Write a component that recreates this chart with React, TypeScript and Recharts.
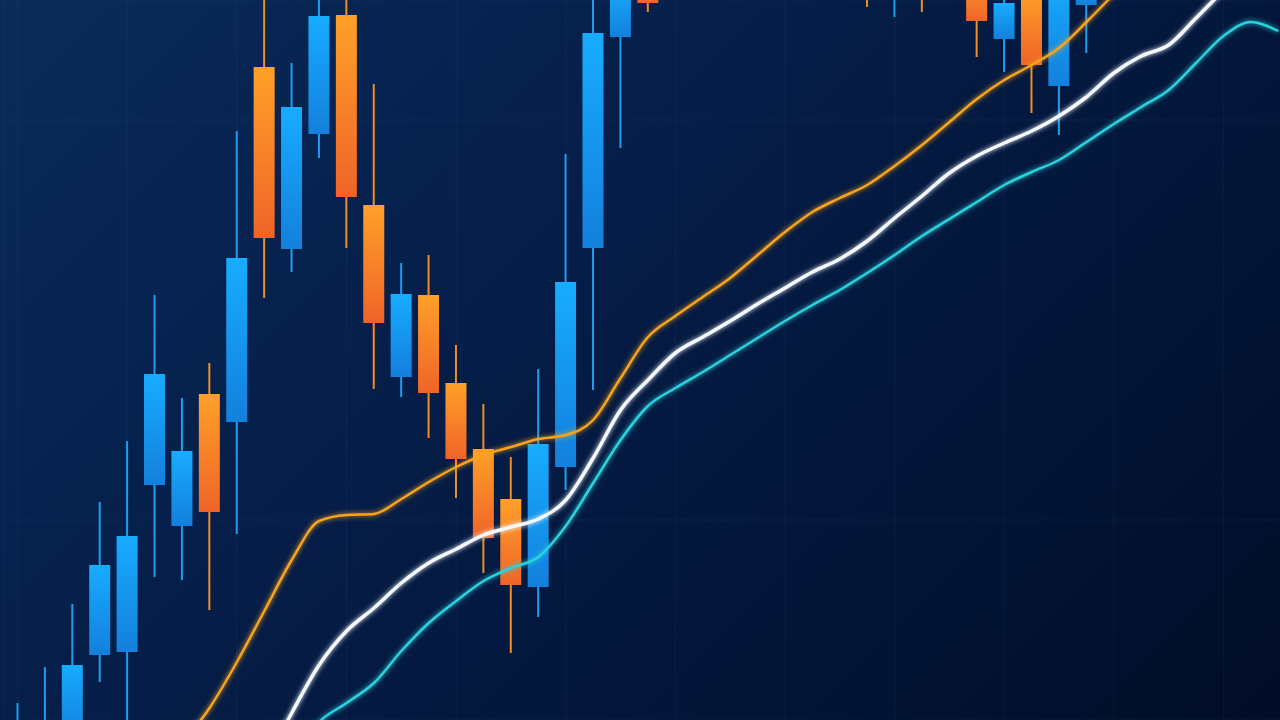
import {
  Bar,
  CartesianGrid,
  ComposedChart,
  Line,
  XAxis,
  YAxis,
} from 'recharts';

const days = Array.from({ length: 47 }, (_, i) => `D${i + 1}`);

const opens = [
  93.0, 94.0, 98.5, 106.5, 106.8, 123.5, 119.4, 132.6, 129.8, 165.3,
  147.1, 158.6, 170.5, 151.5, 134.3, 142.5, 133.7, 127.1, 122.1, 113.3,
  125.3, 147.2, 168.3, 175.5, 176.0, 178.5, 176.2, 180.6, 178.0, 182.1,
  177.4, 176.8, 172.5, 176.0, 174.0, 174.6, 168.1, 173.0, 163.4, 171.5,
];
const highs = [
  101.7, 105.3, 111.6, 121.8, 127.9, 142.5, 132.2, 135.7, 158.9, 174.0,
  165.7, 173.5, 173.2, 163.6, 145.7, 146.5, 137.5, 131.6, 126.3, 135.1,
  156.6, 175.0, 176.5, 178.0, 179.5, 182.0, 181.4, 184.2, 183.0, 185.6,
  180.5, 178.9, 179.0, 178.1, 180.2, 177.9, 176.0, 176.4, 175.8, 179.0,
];
const lows = [
  91.0, 92.0, 96.0, 103.8, 97.5, 114.3, 114.0, 111.0, 118.6, 142.2,
  144.8, 156.2, 147.2, 133.1, 132.3, 128.2, 122.2, 114.7, 106.7, 110.3,
  123.0, 133.0, 157.2, 170.8, 172.8, 174.6, 173.9, 177.1, 175.4, 176.3,
  173.6, 171.3, 170.3, 170.8, 172.5, 166.3, 164.8, 160.7, 158.5, 166.7,
];
const closes = [
  98.0, 99.5, 105.5, 115.5, 118.4, 134.6, 126.9, 120.8, 146.2, 148.2,
  161.3, 170.4, 152.3, 139.7, 142.6, 132.7, 126.1, 118.2, 113.5, 127.6,
  143.8, 168.7, 173.5, 171.7, 178.5, 176.2, 180.6, 178.0, 182.1, 177.4,
  179.9, 172.5, 177.2, 172.5, 178.6, 169.9, 171.7, 165.5, 174.0, 175.0,
];

// moving averages: fast (orange), mid (white), slow (cyan)
const maFast = [
  null, null, null, null, null, 93.0, 97.5, 101.2, 105.8, 110.9,
  116.0, 119.9, 120.5, 120.6, 122.1, 123.8, 125.3, 126.5, 127.3, 128.1,
  128.5, 130.0, 134.2, 138.3, 140.4, 142.3, 144.2, 146.5, 148.8, 150.8,
  152.2, 153.5, 155.4, 157.5, 159.8, 162.1, 164.0, 165.5, 167.2, 169.8,
  172.6, 175.5, 178.2, null, null, null, null,
];
const maMid = [
  null, null, null, null, null, null, null, null, null, 95.5,
  100.7, 105.5, 108.9, 111.2, 113.7, 115.7, 117.1, 118.5, 119.3, 120.1,
  122.0, 126.2, 131.0, 134.0, 136.7, 138.3, 139.9, 141.6, 143.2, 144.8,
  146.1, 147.9, 150.2, 152.4, 154.7, 156.4, 157.7, 158.9, 160.4, 162.3,
  164.7, 166.4, 167.5, 170.2, 173.0, 176.0, null,
];
const maSlow = [
  null, null, null, null, null, null, null, null, null, null,
  96.0, 99.8, 101.7, 103.7, 106.9, 109.7, 111.9, 113.9, 115.2, 116.3,
  119.4, 123.7, 128.0, 131.4, 133.2, 134.8, 136.5, 138.2, 139.9, 141.5,
  143.0, 144.7, 146.5, 148.4, 150.1, 151.8, 153.5, 154.8, 156.0, 157.8,
  159.6, 161.3, 163.0, 165.7, 168.4, 169.8, 168.9,
];

const priceTicks = [120, 160];

const data = days.map((day, i) => ({
  day,
  open: opens[i],
  high: highs[i],
  low: lows[i],
  close: closes[i],
  range: highs[i] !== undefined ? [lows[i], highs[i]] : undefined,
  maFast: maFast[i],
  maMid: maMid[i],
  maSlow: maSlow[i],
}));

function Candle(props: any) {
  const { x, y, width, height, payload } = props;
  if (!payload || payload.high === undefined || !height) return null;
  const { open, high, low, close } = payload;
  const up = close >= open;
  const k = height / (high - low);
  const top = y + (high - Math.max(open, close)) * k;
  const bottom = y + (high - Math.min(open, close)) * k;
  const cx = x + width / 2;
  return (
    <g>
      <line
        x1={cx}
        x2={cx}
        y1={y}
        y2={y + height}
        stroke={up ? '#1d9ef0' : '#f08d24'}
        strokeWidth={2}
      />
      <rect
        x={x}
        y={top}
        width={width}
        height={Math.max(bottom - top, 1)}
        fill={up ? 'url(#upFill)' : 'url(#downFill)'}
      />
    </g>
  );
}

export default function App() {
  return (
    <div
      style={{
        position: 'fixed',
        top: 0,
        left: 0,
        width: 1280,
        height: 720,
        overflow: 'hidden',
        background:
          'linear-gradient(135deg, #0a2b59 0%, #061f4b 35%, #031538 70%, #010d27 100%)',
      }}
    >
      <ComposedChart
        width={1292}
        height={720}
        data={data}
        margin={{ top: 0, right: 0, left: 4, bottom: 0 }}
      >
        <defs>
          <linearGradient id="upFill" x1="0" y1="0" x2="0" y2="1">
            <stop offset="0%" stopColor="#17acff" />
            <stop offset="100%" stopColor="#1380dc" />
          </linearGradient>
          <linearGradient id="downFill" x1="0" y1="0" x2="0" y2="1">
            <stop offset="0%" stopColor="#ffa028" />
            <stop offset="100%" stopColor="#ef6428" />
          </linearGradient>
          <filter id="glow" x="-20%" y="-20%" width="140%" height="140%">
            <feGaussianBlur stdDeviation="2.5" result="blur" />
            <feMerge>
              <feMergeNode in="blur" />
              <feMergeNode in="SourceGraphic" />
            </feMerge>
          </filter>
        </defs>
        <CartesianGrid stroke="rgba(110,160,220,0.05)" strokeWidth={1.5} />
        <XAxis dataKey="day" hide interval={3} />
        <YAxis hide domain={[100, 172]} allowDataOverflow ticks={priceTicks} />
        <Bar dataKey="range" barSize={21} shape={Candle} isAnimationActive={false} />
        <Line
          type="monotone"
          dataKey="maFast"
          stroke="#f7a31c"
          strokeWidth={2.5}
          dot={false}
          filter="url(#glow)"
          isAnimationActive={false}
        />
        <Line
          type="monotone"
          dataKey="maMid"
          stroke="#f4f8ff"
          strokeWidth={3.5}
          dot={false}
          filter="url(#glow)"
          isAnimationActive={false}
        />
        <Line
          type="monotone"
          dataKey="maSlow"
          stroke="#2ad2de"
          strokeWidth={2.5}
          dot={false}
          filter="url(#glow)"
          isAnimationActive={false}
        />
      </ComposedChart>
    </div>
  );
}
